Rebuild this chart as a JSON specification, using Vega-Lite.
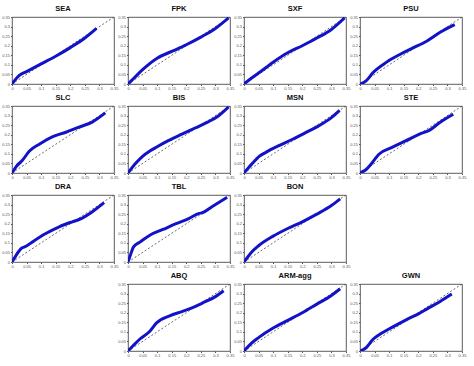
{
"$schema": "https://vega.github.io/schema/vega-lite/v6.json",
"padding": {"left": 1, "top": 4, "right": 0, "bottom": 0},
"background": "white",
"datasets": {
"diag": [{"x": 0, "y": 0}, {"x": 0.35, "y": 0.35}],
"curves": [
{"site":"SEA","x":0,"y":0},{"site":"SEA","x":0.01,"y":0.02},{"site":"SEA","x":0.025,"y":0.045},{"site":"SEA","x":0.05,"y":0.065},{"site":"SEA","x":0.1,"y":0.105},{"site":"SEA","x":0.15,"y":0.145},{"site":"SEA","x":0.2,"y":0.19},{"site":"SEA","x":0.25,"y":0.24},{"site":"SEA","x":0.29,"y":0.29},
{"site":"FPK","x":0,"y":0},{"site":"FPK","x":0.02,"y":0.03},{"site":"FPK","x":0.05,"y":0.075},{"site":"FPK","x":0.1,"y":0.135},{"site":"FPK","x":0.15,"y":0.17},{"site":"FPK","x":0.2,"y":0.205},{"site":"FPK","x":0.25,"y":0.245},{"site":"FPK","x":0.3,"y":0.29},{"site":"FPK","x":0.345,"y":0.345},
{"site":"SXF","x":0,"y":0},{"site":"SXF","x":0.025,"y":0.03},{"site":"SXF","x":0.05,"y":0.057},{"site":"SXF","x":0.1,"y":0.114},{"site":"SXF","x":0.15,"y":0.163},{"site":"SXF","x":0.2,"y":0.2},{"site":"SXF","x":0.25,"y":0.24},{"site":"SXF","x":0.3,"y":0.285},{"site":"SXF","x":0.345,"y":0.345},
{"site":"PSU","x":0,"y":0},{"site":"PSU","x":0.02,"y":0.015},{"site":"PSU","x":0.045,"y":0.06},{"site":"PSU","x":0.09,"y":0.113},{"site":"PSU","x":0.135,"y":0.153},{"site":"PSU","x":0.18,"y":0.187},{"site":"PSU","x":0.23,"y":0.225},{"site":"PSU","x":0.275,"y":0.27},{"site":"PSU","x":0.325,"y":0.31},
{"site":"SLC","x":0,"y":0},{"site":"SLC","x":0.015,"y":0.035},{"site":"SLC","x":0.035,"y":0.065},{"site":"SLC","x":0.06,"y":0.115},{"site":"SLC","x":0.095,"y":0.152},{"site":"SLC","x":0.14,"y":0.19},{"site":"SLC","x":0.185,"y":0.213},{"site":"SLC","x":0.23,"y":0.24},{"site":"SLC","x":0.275,"y":0.266},{"site":"SLC","x":0.32,"y":0.314},
{"site":"BIS","x":0,"y":0},{"site":"BIS","x":0.028,"y":0.053},{"site":"BIS","x":0.05,"y":0.087},{"site":"BIS","x":0.075,"y":0.115},{"site":"BIS","x":0.1,"y":0.137},{"site":"BIS","x":0.14,"y":0.17},{"site":"BIS","x":0.185,"y":0.203},{"site":"BIS","x":0.23,"y":0.235},{"site":"BIS","x":0.275,"y":0.267},{"site":"BIS","x":0.31,"y":0.298},{"site":"BIS","x":0.345,"y":0.345},
{"site":"MSN","x":0,"y":0},{"site":"MSN","x":0.03,"y":0.052},{"site":"MSN","x":0.053,"y":0.088},{"site":"MSN","x":0.075,"y":0.108},{"site":"MSN","x":0.12,"y":0.143},{"site":"MSN","x":0.165,"y":0.175},{"site":"MSN","x":0.21,"y":0.21},{"site":"MSN","x":0.255,"y":0.245},{"site":"MSN","x":0.3,"y":0.289},{"site":"MSN","x":0.328,"y":0.327},
{"site":"STE","x":0,"y":0},{"site":"STE","x":0.0175,"y":0.014},{"site":"STE","x":0.041,"y":0.052},{"site":"STE","x":0.064,"y":0.097},{"site":"STE","x":0.11,"y":0.134},{"site":"STE","x":0.158,"y":0.169},{"site":"STE","x":0.204,"y":0.203},{"site":"STE","x":0.239,"y":0.224},{"site":"STE","x":0.274,"y":0.264},{"site":"STE","x":0.32,"y":0.307},
{"site":"DRA","x":0,"y":0},{"site":"DRA","x":0.014,"y":0.035},{"site":"DRA","x":0.031,"y":0.07},{"site":"DRA","x":0.048,"y":0.082},{"site":"DRA","x":0.07,"y":0.105},{"site":"DRA","x":0.116,"y":0.149},{"site":"DRA","x":0.162,"y":0.184},{"site":"DRA","x":0.207,"y":0.21},{"site":"DRA","x":0.23,"y":0.222},{"site":"DRA","x":0.276,"y":0.263},{"site":"DRA","x":0.316,"y":0.31},
{"site":"TBL","x":0,"y":0},{"site":"TBL","x":0.008,"y":0.035},{"site":"TBL","x":0.019,"y":0.079},{"site":"TBL","x":0.042,"y":0.105},{"site":"TBL","x":0.075,"y":0.14},{"site":"TBL","x":0.12,"y":0.17},{"site":"TBL","x":0.165,"y":0.2},{"site":"TBL","x":0.21,"y":0.228},{"site":"TBL","x":0.244,"y":0.254},{"site":"TBL","x":0.255,"y":0.257},{"site":"TBL","x":0.288,"y":0.289},{"site":"TBL","x":0.34,"y":0.338},
{"site":"BON","x":0,"y":0},{"site":"BON","x":0.025,"y":0.05},{"site":"BON","x":0.05,"y":0.085},{"site":"BON","x":0.1,"y":0.135},{"site":"BON","x":0.15,"y":0.175},{"site":"BON","x":0.2,"y":0.21},{"site":"BON","x":0.25,"y":0.25},{"site":"BON","x":0.3,"y":0.295},{"site":"BON","x":0.33,"y":0.33},
{"site":"ABQ","x":0,"y":0},{"site":"ABQ","x":0.019,"y":0.03},{"site":"ABQ","x":0.042,"y":0.064},{"site":"ABQ","x":0.075,"y":0.103},{"site":"ABQ","x":0.098,"y":0.147},{"site":"ABQ","x":0.143,"y":0.184},{"site":"ABQ","x":0.187,"y":0.207},{"site":"ABQ","x":0.232,"y":0.233},{"site":"ABQ","x":0.255,"y":0.25},{"site":"ABQ","x":0.3,"y":0.284},{"site":"ABQ","x":0.328,"y":0.315},
{"site":"ARM-agg","x":0,"y":0},{"site":"ARM-agg","x":0.025,"y":0.04},{"site":"ARM-agg","x":0.05,"y":0.07},{"site":"ARM-agg","x":0.1,"y":0.12},{"site":"ARM-agg","x":0.15,"y":0.16},{"site":"ARM-agg","x":0.2,"y":0.2},{"site":"ARM-agg","x":0.25,"y":0.245},{"site":"ARM-agg","x":0.3,"y":0.29},{"site":"ARM-agg","x":0.33,"y":0.325},
{"site":"GWN","x":0,"y":0},{"site":"GWN","x":0.021,"y":0.017},{"site":"GWN","x":0.044,"y":0.06},{"site":"GWN","x":0.067,"y":0.086},{"site":"GWN","x":0.113,"y":0.126},{"site":"GWN","x":0.16,"y":0.164},{"site":"GWN","x":0.205,"y":0.198},{"site":"GWN","x":0.229,"y":0.219},{"site":"GWN","x":0.275,"y":0.259},{"site":"GWN","x":0.315,"y":0.298}
]
},
"columns": 4,
"spacing": {"row": 2, "column": -2},
"concat": [
{"title":"SEA","width":102,"height":67,"encoding":{"x":{"field":"x","type":"quantitative","scale":{"domain":[0,0.35],"nice":false},"title":null},"y":{"field":"y","type":"quantitative","scale":{"domain":[0,0.35],"nice":false},"title":null}},"layer":[{"data":{"name":"diag"},"mark":{"type":"line","strokeDash":[2,2],"color":"#444","strokeWidth":0.8,"clip":true}},{"data":{"name":"curves"},"transform":[{"filter":"datum.site==='SEA'"}],"mark":{"type":"line","color":"#1212c8","strokeWidth":3,"interpolate":"monotone","clip":true}}]},
{"title":"FPK","width":102,"height":67,"encoding":{"x":{"field":"x","type":"quantitative","scale":{"domain":[0,0.35],"nice":false},"title":null},"y":{"field":"y","type":"quantitative","scale":{"domain":[0,0.35],"nice":false},"title":null}},"layer":[{"data":{"name":"diag"},"mark":{"type":"line","strokeDash":[2,2],"color":"#444","strokeWidth":0.8,"clip":true}},{"data":{"name":"curves"},"transform":[{"filter":"datum.site==='FPK'"}],"mark":{"type":"line","color":"#1212c8","strokeWidth":3,"interpolate":"monotone","clip":true}}]},
{"title":"SXF","width":102,"height":67,"encoding":{"x":{"field":"x","type":"quantitative","scale":{"domain":[0,0.35],"nice":false},"title":null},"y":{"field":"y","type":"quantitative","scale":{"domain":[0,0.35],"nice":false},"title":null}},"layer":[{"data":{"name":"diag"},"mark":{"type":"line","strokeDash":[2,2],"color":"#444","strokeWidth":0.8,"clip":true}},{"data":{"name":"curves"},"transform":[{"filter":"datum.site==='SXF'"}],"mark":{"type":"line","color":"#1212c8","strokeWidth":3,"interpolate":"monotone","clip":true}}]},
{"title":"PSU","width":102,"height":67,"encoding":{"x":{"field":"x","type":"quantitative","scale":{"domain":[0,0.35],"nice":false},"title":null},"y":{"field":"y","type":"quantitative","scale":{"domain":[0,0.35],"nice":false},"title":null}},"layer":[{"data":{"name":"diag"},"mark":{"type":"line","strokeDash":[2,2],"color":"#444","strokeWidth":0.8,"clip":true}},{"data":{"name":"curves"},"transform":[{"filter":"datum.site==='PSU'"}],"mark":{"type":"line","color":"#1212c8","strokeWidth":3,"interpolate":"monotone","clip":true}}]},
{"title":"SLC","width":102,"height":67,"encoding":{"x":{"field":"x","type":"quantitative","scale":{"domain":[0,0.35],"nice":false},"title":null},"y":{"field":"y","type":"quantitative","scale":{"domain":[0,0.35],"nice":false},"title":null}},"layer":[{"data":{"name":"diag"},"mark":{"type":"line","strokeDash":[2,2],"color":"#444","strokeWidth":0.8,"clip":true}},{"data":{"name":"curves"},"transform":[{"filter":"datum.site==='SLC'"}],"mark":{"type":"line","color":"#1212c8","strokeWidth":3,"interpolate":"monotone","clip":true}}]},
{"title":"BIS","width":102,"height":67,"encoding":{"x":{"field":"x","type":"quantitative","scale":{"domain":[0,0.35],"nice":false},"title":null},"y":{"field":"y","type":"quantitative","scale":{"domain":[0,0.35],"nice":false},"title":null}},"layer":[{"data":{"name":"diag"},"mark":{"type":"line","strokeDash":[2,2],"color":"#444","strokeWidth":0.8,"clip":true}},{"data":{"name":"curves"},"transform":[{"filter":"datum.site==='BIS'"}],"mark":{"type":"line","color":"#1212c8","strokeWidth":3,"interpolate":"monotone","clip":true}}]},
{"title":"MSN","width":102,"height":67,"encoding":{"x":{"field":"x","type":"quantitative","scale":{"domain":[0,0.35],"nice":false},"title":null},"y":{"field":"y","type":"quantitative","scale":{"domain":[0,0.35],"nice":false},"title":null}},"layer":[{"data":{"name":"diag"},"mark":{"type":"line","strokeDash":[2,2],"color":"#444","strokeWidth":0.8,"clip":true}},{"data":{"name":"curves"},"transform":[{"filter":"datum.site==='MSN'"}],"mark":{"type":"line","color":"#1212c8","strokeWidth":3,"interpolate":"monotone","clip":true}}]},
{"title":"STE","width":102,"height":67,"encoding":{"x":{"field":"x","type":"quantitative","scale":{"domain":[0,0.35],"nice":false},"title":null},"y":{"field":"y","type":"quantitative","scale":{"domain":[0,0.35],"nice":false},"title":null}},"layer":[{"data":{"name":"diag"},"mark":{"type":"line","strokeDash":[2,2],"color":"#444","strokeWidth":0.8,"clip":true}},{"data":{"name":"curves"},"transform":[{"filter":"datum.site==='STE'"}],"mark":{"type":"line","color":"#1212c8","strokeWidth":3,"interpolate":"monotone","clip":true}}]},
{"title":"DRA","width":102,"height":67,"encoding":{"x":{"field":"x","type":"quantitative","scale":{"domain":[0,0.35],"nice":false},"title":null},"y":{"field":"y","type":"quantitative","scale":{"domain":[0,0.35],"nice":false},"title":null}},"layer":[{"data":{"name":"diag"},"mark":{"type":"line","strokeDash":[2,2],"color":"#444","strokeWidth":0.8,"clip":true}},{"data":{"name":"curves"},"transform":[{"filter":"datum.site==='DRA'"}],"mark":{"type":"line","color":"#1212c8","strokeWidth":3,"interpolate":"monotone","clip":true}}]},
{"title":"TBL","width":102,"height":67,"encoding":{"x":{"field":"x","type":"quantitative","scale":{"domain":[0,0.35],"nice":false},"title":null},"y":{"field":"y","type":"quantitative","scale":{"domain":[0,0.35],"nice":false},"title":null}},"layer":[{"data":{"name":"diag"},"mark":{"type":"line","strokeDash":[2,2],"color":"#444","strokeWidth":0.8,"clip":true}},{"data":{"name":"curves"},"transform":[{"filter":"datum.site==='TBL'"}],"mark":{"type":"line","color":"#1212c8","strokeWidth":3,"interpolate":"monotone","clip":true}}]},
{"title":"BON","width":102,"height":67,"encoding":{"x":{"field":"x","type":"quantitative","scale":{"domain":[0,0.35],"nice":false},"title":null},"y":{"field":"y","type":"quantitative","scale":{"domain":[0,0.35],"nice":false},"title":null}},"layer":[{"data":{"name":"diag"},"mark":{"type":"line","strokeDash":[2,2],"color":"#444","strokeWidth":0.8,"clip":true}},{"data":{"name":"curves"},"transform":[{"filter":"datum.site==='BON'"}],"mark":{"type":"line","color":"#1212c8","strokeWidth":3,"interpolate":"monotone","clip":true}}]},
{"width":102,"height":67,"data":{"values":[{}]},"mark":{"type":"point","opacity":0},"view":{"stroke":null}},
{"width":102,"height":67,"data":{"values":[{}]},"mark":{"type":"point","opacity":0},"view":{"stroke":null}},
{"title":"ABQ","width":102,"height":67,"encoding":{"x":{"field":"x","type":"quantitative","scale":{"domain":[0,0.35],"nice":false},"title":null},"y":{"field":"y","type":"quantitative","scale":{"domain":[0,0.35],"nice":false},"title":null}},"layer":[{"data":{"name":"diag"},"mark":{"type":"line","strokeDash":[2,2],"color":"#444","strokeWidth":0.8,"clip":true}},{"data":{"name":"curves"},"transform":[{"filter":"datum.site==='ABQ'"}],"mark":{"type":"line","color":"#1212c8","strokeWidth":3,"interpolate":"monotone","clip":true}}]},
{"title":"ARM-agg","width":102,"height":67,"encoding":{"x":{"field":"x","type":"quantitative","scale":{"domain":[0,0.35],"nice":false},"title":null},"y":{"field":"y","type":"quantitative","scale":{"domain":[0,0.35],"nice":false},"title":null}},"layer":[{"data":{"name":"diag"},"mark":{"type":"line","strokeDash":[2,2],"color":"#444","strokeWidth":0.8,"clip":true}},{"data":{"name":"curves"},"transform":[{"filter":"datum.site==='ARM-agg'"}],"mark":{"type":"line","color":"#1212c8","strokeWidth":3,"interpolate":"monotone","clip":true}}]},
{"title":"GWN","width":102,"height":67,"encoding":{"x":{"field":"x","type":"quantitative","scale":{"domain":[0,0.35],"nice":false},"title":null},"y":{"field":"y","type":"quantitative","scale":{"domain":[0,0.35],"nice":false},"title":null}},"layer":[{"data":{"name":"diag"},"mark":{"type":"line","strokeDash":[2,2],"color":"#444","strokeWidth":0.8,"clip":true}},{"data":{"name":"curves"},"transform":[{"filter":"datum.site==='GWN'"}],"mark":{"type":"line","color":"#1212c8","strokeWidth":3,"interpolate":"monotone","clip":true}}]}
],
"config": {
"font": "Liberation Sans",
"view": {"stroke": "#333", "strokeWidth": 0.8},
"axis": {"grid": false, "domain": false, "format": "~g", "tickCount": 8, "labelFontSize": 4, "labelColor": "#555", "tickSize": 1.5, "tickColor": "#555", "labelPadding": 1, "labelFlush": false},
"title": {"fontSize": 7.5, "fontWeight": "bold", "offset": 3, "color": "#111"}
}
}
